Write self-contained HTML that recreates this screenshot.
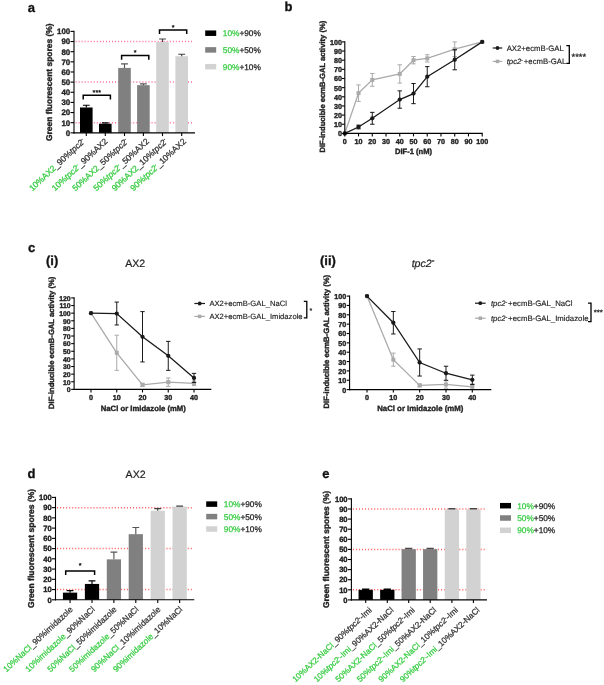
<!DOCTYPE html>
<html lang="en">
<head>
<meta charset="utf-8">
<title>Figure</title>
<style>
html,body{margin:0;padding:0;background:#fff;}
body{width:604px;height:685px;overflow:hidden;font-family:"Liberation Sans",sans-serif;}
svg{display:block;font-family:"Liberation Sans",sans-serif;text-rendering:geometricPrecision;}
text[font-weight="bold"]{stroke:#222;stroke-width:.35px;}
</style>
</head>
<body>
<svg width="604" height="685" viewBox="0 0 604 685">
<rect width="604" height="685" fill="#fff"/>
<text x="27.8" y="11.7" font-size="13" font-weight="bold" fill="#111">a</text>
<text x="284.5" y="11.1" font-size="13" font-weight="bold" fill="#111">b</text>
<text x="28" y="252" font-size="13" font-weight="bold" fill="#111">c</text>
<text x="46" y="265" font-size="13" font-weight="bold" fill="#111">(i)</text>
<text x="320" y="265" font-size="13" font-weight="bold" fill="#111">(ii)</text>
<text x="27.4" y="478" font-size="13" font-weight="bold" fill="#111">d</text>
<text x="322.2" y="478" font-size="13" font-weight="bold" fill="#111">e</text>
<text x="135.2" y="267.4" font-size="10.6" text-anchor="middle" fill="#222" stroke="#222" stroke-width="0.2">AX2</text>
<text x="135.6" y="477.8" font-size="10.6" text-anchor="middle" fill="#222" stroke="#222" stroke-width="0.2">AX2</text>
<text x="423" y="267.4" font-size="10.6" text-anchor="middle" fill="#222" font-style="italic" stroke="#222" stroke-width="0.2">tpc2<tspan dy="-4.6" font-size="8" font-weight="bold">-</tspan></text>
<line x1="75.5" y1="122.7" x2="193.5" y2="122.7" stroke="#ff70a8" stroke-width="1.5" stroke-dasharray="1.05 1.99"/>
<line x1="75.5" y1="82.12" x2="193.5" y2="82.12" stroke="#ff70a8" stroke-width="1.5" stroke-dasharray="1.05 1.99"/>
<line x1="75.5" y1="41.55" x2="193.5" y2="41.55" stroke="#ff70a8" stroke-width="1.5" stroke-dasharray="1.05 1.99"/>
<rect x="80" y="107.49" width="12.6" height="25.36" fill="#000"/>
<path d="M86.3 107.49V105.26M82.9 105.26H89.7" fill="none" stroke="#000" stroke-width="1.15"/>
<rect x="99" y="123.72" width="12.6" height="9.13" fill="#000"/>
<path d="M105.3 123.72V122.91M101.9 122.91H108.7" fill="none" stroke="#000" stroke-width="1.15"/>
<rect x="118.2" y="67.92" width="12.6" height="64.93" fill="#808080"/>
<path d="M124.5 67.92V63.86M121.1 63.86H127.9" fill="none" stroke="#555" stroke-width="1.15"/>
<rect x="137.1" y="85.17" width="12.6" height="47.68" fill="#808080"/>
<path d="M143.4 85.17V83.85M140 83.85H146.8" fill="none" stroke="#555" stroke-width="1.15"/>
<rect x="156.2" y="42.05" width="12.6" height="90.8" fill="#d2d2d2"/>
<path d="M162.5 42.05V39.01M159.1 39.01H165.9" fill="none" stroke="#404040" stroke-width="1.15"/>
<rect x="175.4" y="56.26" width="12.6" height="76.59" fill="#d2d2d2"/>
<path d="M181.7 56.26V54.23M178.3 54.23H185.1" fill="none" stroke="#404040" stroke-width="1.15"/>
<line x1="74" y1="30.85" x2="74" y2="133.4" stroke="#000" stroke-width="1.1"/>
<line x1="70.5" y1="132.85" x2="74" y2="132.85" stroke="#000" stroke-width="1.1"/>
<text x="70.2" y="135.69" font-size="7.9" font-weight="bold" text-anchor="end" fill="#222">0</text>
<line x1="70.5" y1="122.7" x2="74" y2="122.7" stroke="#000" stroke-width="1.1"/>
<text x="70.2" y="125.55" font-size="7.9" font-weight="bold" text-anchor="end" fill="#222">10</text>
<line x1="70.5" y1="112.56" x2="74" y2="112.56" stroke="#000" stroke-width="1.1"/>
<text x="70.2" y="115.4" font-size="7.9" font-weight="bold" text-anchor="end" fill="#222">20</text>
<line x1="70.5" y1="102.41" x2="74" y2="102.41" stroke="#000" stroke-width="1.1"/>
<text x="70.2" y="105.26" font-size="7.9" font-weight="bold" text-anchor="end" fill="#222">30</text>
<line x1="70.5" y1="92.27" x2="74" y2="92.27" stroke="#000" stroke-width="1.1"/>
<text x="70.2" y="95.11" font-size="7.9" font-weight="bold" text-anchor="end" fill="#222">40</text>
<line x1="70.5" y1="82.12" x2="74" y2="82.12" stroke="#000" stroke-width="1.1"/>
<text x="70.2" y="84.97" font-size="7.9" font-weight="bold" text-anchor="end" fill="#222">50</text>
<line x1="70.5" y1="71.98" x2="74" y2="71.98" stroke="#000" stroke-width="1.1"/>
<text x="70.2" y="74.82" font-size="7.9" font-weight="bold" text-anchor="end" fill="#222">60</text>
<line x1="70.5" y1="61.84" x2="74" y2="61.84" stroke="#000" stroke-width="1.1"/>
<text x="70.2" y="64.68" font-size="7.9" font-weight="bold" text-anchor="end" fill="#222">70</text>
<line x1="70.5" y1="51.69" x2="74" y2="51.69" stroke="#000" stroke-width="1.1"/>
<text x="70.2" y="54.53" font-size="7.9" font-weight="bold" text-anchor="end" fill="#222">80</text>
<line x1="70.5" y1="41.55" x2="74" y2="41.55" stroke="#000" stroke-width="1.1"/>
<text x="70.2" y="44.39" font-size="7.9" font-weight="bold" text-anchor="end" fill="#222">90</text>
<line x1="70.5" y1="31.4" x2="74" y2="31.4" stroke="#000" stroke-width="1.1"/>
<text x="70.2" y="34.24" font-size="7.9" font-weight="bold" text-anchor="end" fill="#222">100</text>
<line x1="73.45" y1="132.85" x2="195" y2="132.85" stroke="#000" stroke-width="1.1"/>
<line x1="86.3" y1="132.85" x2="86.3" y2="136.05" stroke="#000" stroke-width="1.1"/>
<text transform="translate(85.5,142.05) rotate(-43)" font-size="8.5" text-anchor="end" stroke-width="0.25"><tspan fill="#38cc44" stroke="#38cc44">10%AX2</tspan><tspan fill="#333" stroke="#333">_90%</tspan><tspan fill="#333" stroke="#333" font-style="italic">tpc2</tspan><tspan fill="#333" stroke="#333" baseline-shift="super" font-size="5.1">-</tspan></text>
<line x1="105.3" y1="132.85" x2="105.3" y2="136.05" stroke="#000" stroke-width="1.1"/>
<text transform="translate(108.2,142.05) rotate(-43)" font-size="8.5" text-anchor="end" stroke-width="0.25"><tspan fill="#38cc44" stroke="#38cc44">10%</tspan><tspan fill="#38cc44" stroke="#38cc44" font-style="italic">tpc2</tspan><tspan fill="#38cc44" stroke="#38cc44" baseline-shift="super" font-size="5.1">-</tspan><tspan fill="#333" stroke="#333">_90%AX2</tspan></text>
<line x1="124.5" y1="132.85" x2="124.5" y2="136.05" stroke="#000" stroke-width="1.1"/>
<text transform="translate(128.7,142.05) rotate(-43)" font-size="8.5" text-anchor="end" stroke-width="0.25"><tspan fill="#38cc44" stroke="#38cc44">50%AX2</tspan><tspan fill="#333" stroke="#333">_50%</tspan><tspan fill="#333" stroke="#333" font-style="italic">tpc2</tspan><tspan fill="#333" stroke="#333" baseline-shift="super" font-size="5.1">-</tspan></text>
<line x1="143.4" y1="132.85" x2="143.4" y2="136.05" stroke="#000" stroke-width="1.1"/>
<text transform="translate(149.6,142.05) rotate(-43)" font-size="8.5" text-anchor="end" stroke-width="0.25"><tspan fill="#38cc44" stroke="#38cc44">50%</tspan><tspan fill="#38cc44" stroke="#38cc44" font-style="italic">tpc2</tspan><tspan fill="#38cc44" stroke="#38cc44" baseline-shift="super" font-size="5.1">-</tspan><tspan fill="#333" stroke="#333">_50%AX2</tspan></text>
<line x1="162.5" y1="132.85" x2="162.5" y2="136.05" stroke="#000" stroke-width="1.1"/>
<text transform="translate(168,142.05) rotate(-43)" font-size="8.5" text-anchor="end" stroke-width="0.25"><tspan fill="#38cc44" stroke="#38cc44">90%AX2</tspan><tspan fill="#333" stroke="#333">_10%</tspan><tspan fill="#333" stroke="#333" font-style="italic">tpc2</tspan><tspan fill="#333" stroke="#333" baseline-shift="super" font-size="5.1">-</tspan></text>
<line x1="181.7" y1="132.85" x2="181.7" y2="136.05" stroke="#000" stroke-width="1.1"/>
<text transform="translate(186.6,142.05) rotate(-43)" font-size="8.5" text-anchor="end" stroke-width="0.25"><tspan fill="#38cc44" stroke="#38cc44">90%</tspan><tspan fill="#38cc44" stroke="#38cc44" font-style="italic">tpc2</tspan><tspan fill="#38cc44" stroke="#38cc44" baseline-shift="super" font-size="5.1">-</tspan><tspan fill="#333" stroke="#333">_10%AX2</tspan></text>
<text transform="translate(51.9,82.2) rotate(-90)" font-size="8.45" font-weight="bold" text-anchor="middle" fill="#222">Green fluorescent spores (%)</text>
<path d="M83.2 99.5V95.3H110.4V99.5" fill="none" stroke="#000" stroke-width="1.5"/>
<text x="96.8" y="95.1" font-size="7.2" text-anchor="middle" fill="#111" stroke="#111" stroke-width="0.3">***</text>
<path d="M121.6 59.8V55.6H148.8V59.8" fill="none" stroke="#000" stroke-width="1.5"/>
<text x="135.2" y="55.4" font-size="7.2" text-anchor="middle" fill="#111" stroke="#111" stroke-width="0.3">*</text>
<path d="M159.5 34.1V29.9H186.7V34.1" fill="none" stroke="#000" stroke-width="1.5"/>
<text x="173.1" y="29.7" font-size="7.2" text-anchor="middle" fill="#111" stroke="#111" stroke-width="0.3">*</text>
<rect x="205.2" y="30.45" width="11" height="5.5" fill="#000"/>
<text x="222.8" y="36.19" font-size="8.3" stroke-width="0.25"><tspan fill="#38cc44" stroke="#38cc44">10%</tspan><tspan fill="#222" stroke="#222">+90%</tspan></text>
<rect x="205.2" y="47.15" width="11" height="5.5" fill="#808080"/>
<text x="222.8" y="52.89" font-size="8.3" stroke-width="0.25"><tspan fill="#38cc44" stroke="#38cc44">50%</tspan><tspan fill="#222" stroke="#222">+50%</tspan></text>
<rect x="205.2" y="63.95" width="11" height="5.5" fill="#d2d2d2"/>
<text x="222.8" y="69.69" font-size="8.3" stroke-width="0.25"><tspan fill="#38cc44" stroke="#38cc44">90%</tspan><tspan fill="#222" stroke="#222">+10%</tspan></text>
<path d="M358.54 84.91V101.38M356.34 84.91H360.74M356.34 101.38H360.74" fill="none" stroke="#aaaaaa" stroke-width="1"/>
<path d="M372.28 73.47V86.28M370.08 73.47H374.48M370.08 86.28H374.48" fill="none" stroke="#aaaaaa" stroke-width="1"/>
<path d="M399.76 64.78V83.08M397.56 64.78H401.96M397.56 83.08H401.96" fill="none" stroke="#aaaaaa" stroke-width="1"/>
<path d="M413.5 56.54V63.86M411.3 56.54H415.7M411.3 63.86H415.7" fill="none" stroke="#aaaaaa" stroke-width="1"/>
<path d="M427.24 54.71V62.03M425.04 54.71H429.44M425.04 62.03H429.44" fill="none" stroke="#aaaaaa" stroke-width="1"/>
<path d="M454.72 41.9V56.54M452.52 41.9H456.92M452.52 56.54H456.92" fill="none" stroke="#aaaaaa" stroke-width="1"/>
<polyline points="344.8,133.4 358.54,93.14 372.28,79.87 399.76,73.93 413.5,60.2 427.24,58.37 454.72,49.22 482.2,41.9" fill="none" stroke="#aaaaaa" stroke-width="1.3"/>
<rect x="342.8" y="131.4" width="4" height="4" fill="#aaaaaa"/>
<rect x="356.54" y="91.14" width="4" height="4" fill="#aaaaaa"/>
<rect x="370.28" y="77.87" width="4" height="4" fill="#aaaaaa"/>
<rect x="397.76" y="71.93" width="4" height="4" fill="#aaaaaa"/>
<rect x="411.5" y="58.2" width="4" height="4" fill="#aaaaaa"/>
<rect x="425.24" y="56.37" width="4" height="4" fill="#aaaaaa"/>
<rect x="452.72" y="47.22" width="4" height="4" fill="#aaaaaa"/>
<rect x="480.2" y="39.9" width="4" height="4" fill="#aaaaaa"/>
<path d="M358.54 125.17V128.83M356.34 125.17H360.74M356.34 128.83H360.74" fill="none" stroke="#1a1a1a" stroke-width="1"/>
<path d="M372.28 112.36V124.25M370.08 112.36H374.48M370.08 124.25H374.48" fill="none" stroke="#1a1a1a" stroke-width="1"/>
<path d="M399.76 90.85V108.24M397.56 90.85H401.96M397.56 108.24H401.96" fill="none" stroke="#1a1a1a" stroke-width="1"/>
<path d="M413.5 83.53V103.66M411.3 83.53H415.7M411.3 103.66H415.7" fill="none" stroke="#1a1a1a" stroke-width="1"/>
<path d="M427.24 66.61V86.74M425.04 66.61H429.44M425.04 86.74H429.44" fill="none" stroke="#1a1a1a" stroke-width="1"/>
<path d="M454.72 49.68V69.81M452.52 49.68H456.92M452.52 69.81H456.92" fill="none" stroke="#1a1a1a" stroke-width="1"/>
<polyline points="344.8,133.4 358.54,127 372.28,118.3 399.76,99.55 413.5,93.6 427.24,76.67 454.72,59.74 482.2,41.9" fill="none" stroke="#1a1a1a" stroke-width="1.3"/>
<circle cx="344.8" cy="133.4" r="2.15" fill="#1a1a1a"/>
<circle cx="358.54" cy="127" r="2.15" fill="#1a1a1a"/>
<circle cx="372.28" cy="118.3" r="2.15" fill="#1a1a1a"/>
<circle cx="399.76" cy="99.55" r="2.15" fill="#1a1a1a"/>
<circle cx="413.5" cy="93.6" r="2.15" fill="#1a1a1a"/>
<circle cx="427.24" cy="76.67" r="2.15" fill="#1a1a1a"/>
<circle cx="454.72" cy="59.74" r="2.15" fill="#1a1a1a"/>
<circle cx="482.2" cy="41.9" r="2.15" fill="#1a1a1a"/>
<line x1="344.8" y1="41.35" x2="344.8" y2="133.95" stroke="#000" stroke-width="1.1"/>
<line x1="341.9" y1="133.4" x2="344.8" y2="133.4" stroke="#000" stroke-width="1.1"/>
<text x="341.9" y="136.39" font-size="7.2" font-weight="bold" text-anchor="end" fill="#222">0</text>
<line x1="341.9" y1="124.25" x2="344.8" y2="124.25" stroke="#000" stroke-width="1.1"/>
<text x="341.9" y="127.24" font-size="7.2" font-weight="bold" text-anchor="end" fill="#222">10</text>
<line x1="341.9" y1="115.1" x2="344.8" y2="115.1" stroke="#000" stroke-width="1.1"/>
<text x="341.9" y="118.09" font-size="7.2" font-weight="bold" text-anchor="end" fill="#222">20</text>
<line x1="341.9" y1="105.95" x2="344.8" y2="105.95" stroke="#000" stroke-width="1.1"/>
<text x="341.9" y="108.94" font-size="7.2" font-weight="bold" text-anchor="end" fill="#222">30</text>
<line x1="341.9" y1="96.8" x2="344.8" y2="96.8" stroke="#000" stroke-width="1.1"/>
<text x="341.9" y="99.79" font-size="7.2" font-weight="bold" text-anchor="end" fill="#222">40</text>
<line x1="341.9" y1="87.65" x2="344.8" y2="87.65" stroke="#000" stroke-width="1.1"/>
<text x="341.9" y="90.64" font-size="7.2" font-weight="bold" text-anchor="end" fill="#222">50</text>
<line x1="341.9" y1="78.5" x2="344.8" y2="78.5" stroke="#000" stroke-width="1.1"/>
<text x="341.9" y="81.49" font-size="7.2" font-weight="bold" text-anchor="end" fill="#222">60</text>
<line x1="341.9" y1="69.35" x2="344.8" y2="69.35" stroke="#000" stroke-width="1.1"/>
<text x="341.9" y="72.34" font-size="7.2" font-weight="bold" text-anchor="end" fill="#222">70</text>
<line x1="341.9" y1="60.2" x2="344.8" y2="60.2" stroke="#000" stroke-width="1.1"/>
<text x="341.9" y="63.19" font-size="7.2" font-weight="bold" text-anchor="end" fill="#222">80</text>
<line x1="341.9" y1="51.05" x2="344.8" y2="51.05" stroke="#000" stroke-width="1.1"/>
<text x="341.9" y="54.04" font-size="7.2" font-weight="bold" text-anchor="end" fill="#222">90</text>
<line x1="341.9" y1="41.9" x2="344.8" y2="41.9" stroke="#000" stroke-width="1.1"/>
<text x="341.9" y="44.89" font-size="7.2" font-weight="bold" text-anchor="end" fill="#222">100</text>
<line x1="344.25" y1="133.4" x2="482.75" y2="133.4" stroke="#000" stroke-width="1.1"/>
<line x1="344.8" y1="133.4" x2="344.8" y2="136.4" stroke="#000" stroke-width="1.1"/>
<text x="344.8" y="144.2" font-size="7.2" font-weight="bold" text-anchor="middle" fill="#222">0</text>
<line x1="358.54" y1="133.4" x2="358.54" y2="136.4" stroke="#000" stroke-width="1.1"/>
<text x="358.54" y="144.2" font-size="7.2" font-weight="bold" text-anchor="middle" fill="#222">10</text>
<line x1="372.28" y1="133.4" x2="372.28" y2="136.4" stroke="#000" stroke-width="1.1"/>
<text x="372.28" y="144.2" font-size="7.2" font-weight="bold" text-anchor="middle" fill="#222">20</text>
<line x1="386.02" y1="133.4" x2="386.02" y2="136.4" stroke="#000" stroke-width="1.1"/>
<text x="386.02" y="144.2" font-size="7.2" font-weight="bold" text-anchor="middle" fill="#222">30</text>
<line x1="399.76" y1="133.4" x2="399.76" y2="136.4" stroke="#000" stroke-width="1.1"/>
<text x="399.76" y="144.2" font-size="7.2" font-weight="bold" text-anchor="middle" fill="#222">40</text>
<line x1="413.5" y1="133.4" x2="413.5" y2="136.4" stroke="#000" stroke-width="1.1"/>
<text x="413.5" y="144.2" font-size="7.2" font-weight="bold" text-anchor="middle" fill="#222">50</text>
<line x1="427.24" y1="133.4" x2="427.24" y2="136.4" stroke="#000" stroke-width="1.1"/>
<text x="427.24" y="144.2" font-size="7.2" font-weight="bold" text-anchor="middle" fill="#222">60</text>
<line x1="440.98" y1="133.4" x2="440.98" y2="136.4" stroke="#000" stroke-width="1.1"/>
<text x="440.98" y="144.2" font-size="7.2" font-weight="bold" text-anchor="middle" fill="#222">70</text>
<line x1="454.72" y1="133.4" x2="454.72" y2="136.4" stroke="#000" stroke-width="1.1"/>
<text x="454.72" y="144.2" font-size="7.2" font-weight="bold" text-anchor="middle" fill="#222">80</text>
<line x1="468.46" y1="133.4" x2="468.46" y2="136.4" stroke="#000" stroke-width="1.1"/>
<text x="468.46" y="144.2" font-size="7.2" font-weight="bold" text-anchor="middle" fill="#222">90</text>
<line x1="482.2" y1="133.4" x2="482.2" y2="136.4" stroke="#000" stroke-width="1.1"/>
<text x="482.2" y="144.2" font-size="7.2" font-weight="bold" text-anchor="middle" fill="#222">100</text>
<text x="413.5" y="154.2" font-size="7.6" font-weight="bold" text-anchor="middle" fill="#222">DIF-1 (nM)</text>
<text transform="translate(325,86.65) rotate(-90)" font-size="7.62" font-weight="bold" text-anchor="middle" fill="#222">DIF-inducible ecmB-GAL activity (%)</text>
<line x1="492.7" y1="48" x2="502.3" y2="48" stroke="#1a1a1a" stroke-width="1.2"/>
<circle cx="497.5" cy="48" r="1.9" fill="#1a1a1a"/>
<text x="506.7" y="50.79" font-size="7.75" fill="#222" stroke="#222" stroke-width="0.15"><tspan>AX2+ecmB-GAL</tspan></text>
<line x1="492.7" y1="61.4" x2="502.3" y2="61.4" stroke="#aaaaaa" stroke-width="1.2"/>
<rect x="495.75" y="59.65" width="3.5" height="3.5" fill="#aaaaaa"/>
<text x="506.7" y="64.19" font-size="7.75" fill="#222" stroke="#222" stroke-width="0.15"><tspan font-style="italic">tpc2</tspan><tspan baseline-shift="super" font-size="4.65">-</tspan><tspan dx="0.9">+ecmB-GAL</tspan></text>
<path d="M566.3 45.6H569.3V63.3H566.3" fill="none" stroke="#000" stroke-width="1.3"/>
<text x="571.6" y="60.44" font-size="9.3" fill="#222" stroke="#222" stroke-width="0.2">****</text>
<path d="M116.75 335.26V370.34M114.55 335.26H118.95M114.55 370.34H118.95" fill="none" stroke="#aaaaaa" stroke-width="1"/>
<path d="M142.5 383.3V386.35M140.3 383.3H144.7M140.3 386.35H144.7" fill="none" stroke="#aaaaaa" stroke-width="1"/>
<path d="M168.25 377.96V386.35M166.05 377.96H170.45M166.05 386.35H170.45" fill="none" stroke="#aaaaaa" stroke-width="1"/>
<path d="M194 381.01V385.59M191.8 381.01H196.2M191.8 385.59H196.2" fill="none" stroke="#aaaaaa" stroke-width="1"/>
<polyline points="91,313.15 116.75,352.8 142.5,384.82 168.25,382.16 194,383.3" fill="none" stroke="#aaaaaa" stroke-width="1.3"/>
<rect x="89" y="311.15" width="4" height="4" fill="#aaaaaa"/>
<rect x="114.75" y="350.8" width="4" height="4" fill="#aaaaaa"/>
<rect x="140.5" y="382.82" width="4" height="4" fill="#aaaaaa"/>
<rect x="166.25" y="380.16" width="4" height="4" fill="#aaaaaa"/>
<rect x="192" y="381.3" width="4" height="4" fill="#aaaaaa"/>
<path d="M116.75 302.09V324.97M114.55 302.09H118.95M114.55 324.97H118.95" fill="none" stroke="#1a1a1a" stroke-width="1"/>
<path d="M142.5 311.62V361.95M140.3 311.62H144.7M140.3 361.95H144.7" fill="none" stroke="#1a1a1a" stroke-width="1"/>
<path d="M168.25 341.36V370.34M166.05 341.36H170.45M166.05 370.34H170.45" fill="none" stroke="#1a1a1a" stroke-width="1"/>
<path d="M194 373.39V382.54M191.8 373.39H196.2M191.8 382.54H196.2" fill="none" stroke="#1a1a1a" stroke-width="1"/>
<polyline points="91,313.15 116.75,313.53 142.5,336.79 168.25,355.85 194,377.96" fill="none" stroke="#1a1a1a" stroke-width="1.3"/>
<circle cx="91" cy="313.15" r="2.15" fill="#1a1a1a"/>
<circle cx="116.75" cy="313.53" r="2.15" fill="#1a1a1a"/>
<circle cx="142.5" cy="336.79" r="2.15" fill="#1a1a1a"/>
<circle cx="168.25" cy="355.85" r="2.15" fill="#1a1a1a"/>
<circle cx="194" cy="377.96" r="2.15" fill="#1a1a1a"/>
<line x1="74.1" y1="297.35" x2="74.1" y2="389.95" stroke="#000" stroke-width="1.1"/>
<line x1="71.2" y1="389.4" x2="74.1" y2="389.4" stroke="#000" stroke-width="1.1"/>
<text x="70.7" y="392.18" font-size="6.9" font-weight="bold" text-anchor="end" fill="#222">0</text>
<line x1="71.2" y1="381.77" x2="74.1" y2="381.77" stroke="#000" stroke-width="1.1"/>
<text x="70.7" y="384.56" font-size="6.9" font-weight="bold" text-anchor="end" fill="#222">10</text>
<line x1="71.2" y1="374.15" x2="74.1" y2="374.15" stroke="#000" stroke-width="1.1"/>
<text x="70.7" y="376.93" font-size="6.9" font-weight="bold" text-anchor="end" fill="#222">20</text>
<line x1="71.2" y1="366.52" x2="74.1" y2="366.52" stroke="#000" stroke-width="1.1"/>
<text x="70.7" y="369.31" font-size="6.9" font-weight="bold" text-anchor="end" fill="#222">30</text>
<line x1="71.2" y1="358.9" x2="74.1" y2="358.9" stroke="#000" stroke-width="1.1"/>
<text x="70.7" y="361.68" font-size="6.9" font-weight="bold" text-anchor="end" fill="#222">40</text>
<line x1="71.2" y1="351.27" x2="74.1" y2="351.27" stroke="#000" stroke-width="1.1"/>
<text x="70.7" y="354.06" font-size="6.9" font-weight="bold" text-anchor="end" fill="#222">50</text>
<line x1="71.2" y1="343.65" x2="74.1" y2="343.65" stroke="#000" stroke-width="1.1"/>
<text x="70.7" y="346.43" font-size="6.9" font-weight="bold" text-anchor="end" fill="#222">60</text>
<line x1="71.2" y1="336.02" x2="74.1" y2="336.02" stroke="#000" stroke-width="1.1"/>
<text x="70.7" y="338.81" font-size="6.9" font-weight="bold" text-anchor="end" fill="#222">70</text>
<line x1="71.2" y1="328.4" x2="74.1" y2="328.4" stroke="#000" stroke-width="1.1"/>
<text x="70.7" y="331.18" font-size="6.9" font-weight="bold" text-anchor="end" fill="#222">80</text>
<line x1="71.2" y1="320.77" x2="74.1" y2="320.77" stroke="#000" stroke-width="1.1"/>
<text x="70.7" y="323.56" font-size="6.9" font-weight="bold" text-anchor="end" fill="#222">90</text>
<line x1="71.2" y1="313.15" x2="74.1" y2="313.15" stroke="#000" stroke-width="1.1"/>
<text x="70.7" y="315.93" font-size="6.9" font-weight="bold" text-anchor="end" fill="#222">100</text>
<line x1="71.2" y1="305.52" x2="74.1" y2="305.52" stroke="#000" stroke-width="1.1"/>
<text x="70.7" y="308.31" font-size="6.9" font-weight="bold" text-anchor="end" fill="#222">110</text>
<line x1="71.2" y1="297.9" x2="74.1" y2="297.9" stroke="#000" stroke-width="1.1"/>
<text x="70.7" y="300.68" font-size="6.9" font-weight="bold" text-anchor="end" fill="#222">120</text>
<line x1="73.55" y1="389.4" x2="211.3" y2="389.4" stroke="#000" stroke-width="1.1"/>
<line x1="91" y1="389.4" x2="91" y2="392.4" stroke="#000" stroke-width="1.1"/>
<text x="91" y="400.2" font-size="7.2" font-weight="bold" text-anchor="middle" fill="#222">0</text>
<line x1="116.75" y1="389.4" x2="116.75" y2="392.4" stroke="#000" stroke-width="1.1"/>
<text x="116.75" y="400.2" font-size="7.2" font-weight="bold" text-anchor="middle" fill="#222">10</text>
<line x1="142.5" y1="389.4" x2="142.5" y2="392.4" stroke="#000" stroke-width="1.1"/>
<text x="142.5" y="400.2" font-size="7.2" font-weight="bold" text-anchor="middle" fill="#222">20</text>
<line x1="168.25" y1="389.4" x2="168.25" y2="392.4" stroke="#000" stroke-width="1.1"/>
<text x="168.25" y="400.2" font-size="7.2" font-weight="bold" text-anchor="middle" fill="#222">30</text>
<line x1="194" y1="389.4" x2="194" y2="392.4" stroke="#000" stroke-width="1.1"/>
<text x="194" y="400.2" font-size="7.2" font-weight="bold" text-anchor="middle" fill="#222">40</text>
<text x="143.3" y="410.9" font-size="7.7" font-weight="bold" text-anchor="middle" fill="#222">NaCl or Imidazole (mM)</text>
<text transform="translate(54,342.8) rotate(-90)" font-size="7.65" font-weight="bold" text-anchor="middle" fill="#222">DIF-inducible ecmB-GAL activity (%)</text>
<line x1="194.4" y1="303.5" x2="205" y2="303.5" stroke="#1a1a1a" stroke-width="1.2"/>
<circle cx="199.7" cy="303.5" r="1.9" fill="#1a1a1a"/>
<text x="209.4" y="306.25" font-size="7.65" fill="#222" stroke="#222" stroke-width="0.15"><tspan>AX2+ecmB-GAL_NaCl</tspan></text>
<line x1="194.4" y1="316.4" x2="205" y2="316.4" stroke="#aaaaaa" stroke-width="1.2"/>
<rect x="197.95" y="314.65" width="3.5" height="3.5" fill="#aaaaaa"/>
<text x="209.4" y="319.15" font-size="7.65" fill="#222" stroke="#222" stroke-width="0.15"><tspan>AX2+ecmB-GAL_Imidazole</tspan></text>
<path d="M303.8 301.3H306.8V317.8H303.8" fill="none" stroke="#000" stroke-width="1.3"/>
<text x="309.6" y="313.1" font-size="7" fill="#222" stroke="#222" stroke-width="0.2">*</text>
<path d="M393.33 353.13V366.23M391.13 353.13H395.53M391.13 366.23H395.53" fill="none" stroke="#aaaaaa" stroke-width="1"/>
<path d="M419.66 383.99V386.8M417.46 383.99H421.86M417.46 386.8H421.86" fill="none" stroke="#aaaaaa" stroke-width="1"/>
<path d="M445.99 380.72V388.2M443.79 380.72H448.19M443.79 388.2H448.19" fill="none" stroke="#aaaaaa" stroke-width="1"/>
<path d="M472.32 383.99V389.6M470.12 383.99H474.52M470.12 389.6H474.52" fill="none" stroke="#aaaaaa" stroke-width="1"/>
<polyline points="367,296.1 393.33,359.68 419.66,385.39 445.99,384.46 472.32,386.8" fill="none" stroke="#aaaaaa" stroke-width="1.3"/>
<rect x="365" y="294.1" width="4" height="4" fill="#aaaaaa"/>
<rect x="391.33" y="357.68" width="4" height="4" fill="#aaaaaa"/>
<rect x="417.66" y="383.39" width="4" height="4" fill="#aaaaaa"/>
<rect x="443.99" y="382.46" width="4" height="4" fill="#aaaaaa"/>
<rect x="470.32" y="384.8" width="4" height="4" fill="#aaaaaa"/>
<path d="M393.33 311.53V333.97M391.13 311.53H395.53M391.13 333.97H395.53" fill="none" stroke="#1a1a1a" stroke-width="1"/>
<path d="M419.66 348.93V376.04M417.46 348.93H421.86M417.46 376.04H421.86" fill="none" stroke="#1a1a1a" stroke-width="1"/>
<path d="M445.99 366.23V380.25M443.79 366.23H448.19M443.79 380.25H448.19" fill="none" stroke="#1a1a1a" stroke-width="1"/>
<path d="M472.32 375.11V384.46M470.12 375.11H474.52M470.12 384.46H474.52" fill="none" stroke="#1a1a1a" stroke-width="1"/>
<polyline points="367,296.1 393.33,322.75 419.66,362.49 445.99,373.24 472.32,379.78" fill="none" stroke="#1a1a1a" stroke-width="1.3"/>
<circle cx="367" cy="296.1" r="2.15" fill="#1a1a1a"/>
<circle cx="393.33" cy="322.75" r="2.15" fill="#1a1a1a"/>
<circle cx="419.66" cy="362.49" r="2.15" fill="#1a1a1a"/>
<circle cx="445.99" cy="373.24" r="2.15" fill="#1a1a1a"/>
<circle cx="472.32" cy="379.78" r="2.15" fill="#1a1a1a"/>
<line x1="349.6" y1="295.55" x2="349.6" y2="390.15" stroke="#000" stroke-width="1.1"/>
<line x1="346.7" y1="389.6" x2="349.6" y2="389.6" stroke="#000" stroke-width="1.1"/>
<text x="346.2" y="392.59" font-size="7.2" font-weight="bold" text-anchor="end" fill="#222">0</text>
<line x1="346.7" y1="380.25" x2="349.6" y2="380.25" stroke="#000" stroke-width="1.1"/>
<text x="346.2" y="383.24" font-size="7.2" font-weight="bold" text-anchor="end" fill="#222">10</text>
<line x1="346.7" y1="370.9" x2="349.6" y2="370.9" stroke="#000" stroke-width="1.1"/>
<text x="346.2" y="373.89" font-size="7.2" font-weight="bold" text-anchor="end" fill="#222">20</text>
<line x1="346.7" y1="361.55" x2="349.6" y2="361.55" stroke="#000" stroke-width="1.1"/>
<text x="346.2" y="364.54" font-size="7.2" font-weight="bold" text-anchor="end" fill="#222">30</text>
<line x1="346.7" y1="352.2" x2="349.6" y2="352.2" stroke="#000" stroke-width="1.1"/>
<text x="346.2" y="355.19" font-size="7.2" font-weight="bold" text-anchor="end" fill="#222">40</text>
<line x1="346.7" y1="342.85" x2="349.6" y2="342.85" stroke="#000" stroke-width="1.1"/>
<text x="346.2" y="345.84" font-size="7.2" font-weight="bold" text-anchor="end" fill="#222">50</text>
<line x1="346.7" y1="333.5" x2="349.6" y2="333.5" stroke="#000" stroke-width="1.1"/>
<text x="346.2" y="336.49" font-size="7.2" font-weight="bold" text-anchor="end" fill="#222">60</text>
<line x1="346.7" y1="324.15" x2="349.6" y2="324.15" stroke="#000" stroke-width="1.1"/>
<text x="346.2" y="327.14" font-size="7.2" font-weight="bold" text-anchor="end" fill="#222">70</text>
<line x1="346.7" y1="314.8" x2="349.6" y2="314.8" stroke="#000" stroke-width="1.1"/>
<text x="346.2" y="317.79" font-size="7.2" font-weight="bold" text-anchor="end" fill="#222">80</text>
<line x1="346.7" y1="305.45" x2="349.6" y2="305.45" stroke="#000" stroke-width="1.1"/>
<text x="346.2" y="308.44" font-size="7.2" font-weight="bold" text-anchor="end" fill="#222">90</text>
<line x1="346.7" y1="296.1" x2="349.6" y2="296.1" stroke="#000" stroke-width="1.1"/>
<text x="346.2" y="299.09" font-size="7.2" font-weight="bold" text-anchor="end" fill="#222">100</text>
<line x1="349.05" y1="389.6" x2="491.3" y2="389.6" stroke="#000" stroke-width="1.1"/>
<line x1="367" y1="389.6" x2="367" y2="392.6" stroke="#000" stroke-width="1.1"/>
<text x="367" y="400.4" font-size="7.2" font-weight="bold" text-anchor="middle" fill="#222">0</text>
<line x1="393.33" y1="389.6" x2="393.33" y2="392.6" stroke="#000" stroke-width="1.1"/>
<text x="393.33" y="400.4" font-size="7.2" font-weight="bold" text-anchor="middle" fill="#222">10</text>
<line x1="419.66" y1="389.6" x2="419.66" y2="392.6" stroke="#000" stroke-width="1.1"/>
<text x="419.66" y="400.4" font-size="7.2" font-weight="bold" text-anchor="middle" fill="#222">20</text>
<line x1="445.99" y1="389.6" x2="445.99" y2="392.6" stroke="#000" stroke-width="1.1"/>
<text x="445.99" y="400.4" font-size="7.2" font-weight="bold" text-anchor="middle" fill="#222">30</text>
<line x1="472.32" y1="389.6" x2="472.32" y2="392.6" stroke="#000" stroke-width="1.1"/>
<text x="472.32" y="400.4" font-size="7.2" font-weight="bold" text-anchor="middle" fill="#222">40</text>
<text x="420.3" y="410.8" font-size="7.8" font-weight="bold" text-anchor="middle" fill="#222">NaCl or Imidazole (mM)</text>
<text transform="translate(329.2,341.65) rotate(-90)" font-size="7.72" font-weight="bold" text-anchor="middle" fill="#222">DIF-inducible ecmB-GAL activity (%)</text>
<line x1="475" y1="303.2" x2="485.6" y2="303.2" stroke="#1a1a1a" stroke-width="1.2"/>
<circle cx="480.3" cy="303.2" r="1.9" fill="#1a1a1a"/>
<text x="490.9" y="306.01" font-size="7.8" fill="#222" stroke="#222" stroke-width="0.15"><tspan font-style="italic">tpc2</tspan><tspan baseline-shift="super" font-size="4.68">-</tspan><tspan dx="0.9">+ecmB-GAL_NaCl</tspan></text>
<line x1="475" y1="318.2" x2="485.6" y2="318.2" stroke="#aaaaaa" stroke-width="1.2"/>
<rect x="478.55" y="316.45" width="3.5" height="3.5" fill="#aaaaaa"/>
<text x="490.9" y="321.01" font-size="7.8" fill="#222" stroke="#222" stroke-width="0.15"><tspan font-style="italic">tpc2</tspan><tspan baseline-shift="super" font-size="4.68">-</tspan><tspan dx="0.9">+ecmB-GAL_Imidazole</tspan></text>
<path d="M588 303.2H591V321.7H588" fill="none" stroke="#000" stroke-width="1.3"/>
<text x="593.8" y="314.76" font-size="7.8" fill="#222" stroke="#222" stroke-width="0.2">***</text>
<line x1="57" y1="589.56" x2="192" y2="589.56" stroke="#ff6060" stroke-width="1.5" stroke-dasharray="1.05 1.99"/>
<line x1="57" y1="548.6" x2="192" y2="548.6" stroke="#ff6060" stroke-width="1.5" stroke-dasharray="1.05 1.99"/>
<line x1="57" y1="507.64" x2="192" y2="507.64" stroke="#ff6060" stroke-width="1.5" stroke-dasharray="1.05 1.99"/>
<rect x="62.92" y="592.63" width="14.25" height="7.17" fill="#000"/>
<path d="M70.05 592.63V590.58M66.65 590.58H73.45" fill="none" stroke="#000" stroke-width="1.15"/>
<rect x="84.88" y="583.93" width="14.25" height="15.87" fill="#000"/>
<path d="M92 583.93V580.86M88.6 580.86H95.4" fill="none" stroke="#000" stroke-width="1.15"/>
<rect x="106.78" y="559.35" width="14.25" height="40.45" fill="#808080"/>
<path d="M113.9 559.35V552.18M110.5 552.18H117.3" fill="none" stroke="#555" stroke-width="1.15"/>
<rect x="128.68" y="534.16" width="14.25" height="65.64" fill="#808080"/>
<path d="M135.8 534.16V527.51M132.4 527.51H139.2" fill="none" stroke="#555" stroke-width="1.15"/>
<rect x="150.62" y="510.71" width="14.25" height="89.09" fill="#d2d2d2"/>
<path d="M157.75 510.71V508.66M154.35 508.66H161.15" fill="none" stroke="#404040" stroke-width="1.15"/>
<rect x="172.53" y="506.62" width="14.25" height="93.18" fill="#d2d2d2"/>
<path d="M179.65 506.62V506.1M176.25 506.1H183.05" fill="none" stroke="#404040" stroke-width="1.15"/>
<line x1="55.5" y1="496.85" x2="55.5" y2="600.35" stroke="#000" stroke-width="1.1"/>
<line x1="52" y1="599.8" x2="55.5" y2="599.8" stroke="#000" stroke-width="1.1"/>
<text x="51.7" y="602.54" font-size="7.6" font-weight="bold" text-anchor="end" fill="#222">0</text>
<line x1="52" y1="589.56" x2="55.5" y2="589.56" stroke="#000" stroke-width="1.1"/>
<text x="51.7" y="592.3" font-size="7.6" font-weight="bold" text-anchor="end" fill="#222">10</text>
<line x1="52" y1="579.32" x2="55.5" y2="579.32" stroke="#000" stroke-width="1.1"/>
<text x="51.7" y="582.06" font-size="7.6" font-weight="bold" text-anchor="end" fill="#222">20</text>
<line x1="52" y1="569.08" x2="55.5" y2="569.08" stroke="#000" stroke-width="1.1"/>
<text x="51.7" y="571.82" font-size="7.6" font-weight="bold" text-anchor="end" fill="#222">30</text>
<line x1="52" y1="558.84" x2="55.5" y2="558.84" stroke="#000" stroke-width="1.1"/>
<text x="51.7" y="561.58" font-size="7.6" font-weight="bold" text-anchor="end" fill="#222">40</text>
<line x1="52" y1="548.6" x2="55.5" y2="548.6" stroke="#000" stroke-width="1.1"/>
<text x="51.7" y="551.34" font-size="7.6" font-weight="bold" text-anchor="end" fill="#222">50</text>
<line x1="52" y1="538.36" x2="55.5" y2="538.36" stroke="#000" stroke-width="1.1"/>
<text x="51.7" y="541.1" font-size="7.6" font-weight="bold" text-anchor="end" fill="#222">60</text>
<line x1="52" y1="528.12" x2="55.5" y2="528.12" stroke="#000" stroke-width="1.1"/>
<text x="51.7" y="530.86" font-size="7.6" font-weight="bold" text-anchor="end" fill="#222">70</text>
<line x1="52" y1="517.88" x2="55.5" y2="517.88" stroke="#000" stroke-width="1.1"/>
<text x="51.7" y="520.62" font-size="7.6" font-weight="bold" text-anchor="end" fill="#222">80</text>
<line x1="52" y1="507.64" x2="55.5" y2="507.64" stroke="#000" stroke-width="1.1"/>
<text x="51.7" y="510.38" font-size="7.6" font-weight="bold" text-anchor="end" fill="#222">90</text>
<line x1="52" y1="497.4" x2="55.5" y2="497.4" stroke="#000" stroke-width="1.1"/>
<text x="51.7" y="500.14" font-size="7.6" font-weight="bold" text-anchor="end" fill="#222">100</text>
<line x1="54.95" y1="599.8" x2="194.3" y2="599.8" stroke="#000" stroke-width="1.1"/>
<line x1="70.05" y1="599.8" x2="70.05" y2="603" stroke="#000" stroke-width="1.1"/>
<text transform="translate(73.35,610.1) rotate(-43)" font-size="8.3" text-anchor="end" stroke-width="0.25"><tspan fill="#38cc44" stroke="#38cc44">10%NaCl</tspan><tspan fill="#333" stroke="#333">_90%imidazole</tspan></text>
<line x1="92" y1="599.8" x2="92" y2="603" stroke="#000" stroke-width="1.1"/>
<text transform="translate(95.3,610.1) rotate(-43)" font-size="8.3" text-anchor="end" stroke-width="0.25"><tspan fill="#38cc44" stroke="#38cc44">10%imidazole</tspan><tspan fill="#333" stroke="#333">_90%NaCl</tspan></text>
<line x1="113.9" y1="599.8" x2="113.9" y2="603" stroke="#000" stroke-width="1.1"/>
<text transform="translate(117.2,610.1) rotate(-43)" font-size="8.3" text-anchor="end" stroke-width="0.25"><tspan fill="#38cc44" stroke="#38cc44">50%NaCl</tspan><tspan fill="#333" stroke="#333">_50%imidazole</tspan></text>
<line x1="135.8" y1="599.8" x2="135.8" y2="603" stroke="#000" stroke-width="1.1"/>
<text transform="translate(139.1,610.1) rotate(-43)" font-size="8.3" text-anchor="end" stroke-width="0.25"><tspan fill="#38cc44" stroke="#38cc44">50%imidazole</tspan><tspan fill="#333" stroke="#333">_50%NaCl</tspan></text>
<line x1="157.75" y1="599.8" x2="157.75" y2="603" stroke="#000" stroke-width="1.1"/>
<text transform="translate(161.05,610.1) rotate(-43)" font-size="8.3" text-anchor="end" stroke-width="0.25"><tspan fill="#38cc44" stroke="#38cc44">90%NaCl</tspan><tspan fill="#333" stroke="#333">_10%imidazole</tspan></text>
<line x1="179.65" y1="599.8" x2="179.65" y2="603" stroke="#000" stroke-width="1.1"/>
<text transform="translate(182.95,610.1) rotate(-43)" font-size="8.3" text-anchor="end" stroke-width="0.25"><tspan fill="#38cc44" stroke="#38cc44">90%imidazole</tspan><tspan fill="#333" stroke="#333">_10%NaCl</tspan></text>
<text transform="translate(34.2,548.4) rotate(-90)" font-size="8.55" font-weight="bold" text-anchor="middle" fill="#222">Green fluorescent spores (%)</text>
<path d="M65.7 575.1V570.9H94.6V575.1" fill="none" stroke="#000" stroke-width="1.5"/>
<text x="80.15" y="568" font-size="7.2" text-anchor="middle" fill="#111" stroke="#111" stroke-width="0.3">*</text>
<rect x="206.2" y="501.35" width="11" height="5.5" fill="#000"/>
<text x="223.8" y="507.09" font-size="8.3" stroke-width="0.25"><tspan fill="#38cc44" stroke="#38cc44">10%</tspan><tspan fill="#222" stroke="#222">+90%</tspan></text>
<rect x="206.2" y="513.85" width="11" height="5.5" fill="#808080"/>
<text x="223.8" y="519.59" font-size="8.3" stroke-width="0.25"><tspan fill="#38cc44" stroke="#38cc44">50%</tspan><tspan fill="#222" stroke="#222">+50%</tspan></text>
<rect x="206.2" y="526.25" width="11" height="5.5" fill="#d2d2d2"/>
<text x="223.8" y="531.99" font-size="8.3" stroke-width="0.25"><tspan fill="#38cc44" stroke="#38cc44">90%</tspan><tspan fill="#222" stroke="#222">+10%</tspan></text>
<line x1="352.9" y1="589.8" x2="486" y2="589.8" stroke="#ff6060" stroke-width="1.5" stroke-dasharray="1.05 1.99"/>
<line x1="352.9" y1="549.4" x2="486" y2="549.4" stroke="#ff6060" stroke-width="1.5" stroke-dasharray="1.05 1.99"/>
<line x1="352.9" y1="509" x2="486" y2="509" stroke="#ff6060" stroke-width="1.5" stroke-dasharray="1.05 1.99"/>
<rect x="358.55" y="589.8" width="14.3" height="10.1" fill="#000"/>
<path d="M365.7 589.8V589.29M362.1 589.29H369.3" fill="none" stroke="#000" stroke-width="1.5"/>
<rect x="380.15" y="589.8" width="14.3" height="10.1" fill="#000"/>
<path d="M387.3 589.8V589.29M383.7 589.29H390.9" fill="none" stroke="#000" stroke-width="1.5"/>
<rect x="401.55" y="549.2" width="14.3" height="50.7" fill="#808080"/>
<path d="M408.7 549.2V548.59M405.1 548.59H412.3" fill="none" stroke="#4a4a4a" stroke-width="1.5"/>
<rect x="423.05" y="549.2" width="14.3" height="50.7" fill="#808080"/>
<path d="M430.2 549.2V548.59M426.6 548.59H433.8" fill="none" stroke="#4a4a4a" stroke-width="1.5"/>
<rect x="444.75" y="509.4" width="14.3" height="90.5" fill="#d2d2d2"/>
<path d="M451.9 509.4V508.8M448.3 508.8H455.5" fill="none" stroke="#4a4a4a" stroke-width="1.5"/>
<rect x="466.25" y="509.4" width="14.3" height="90.5" fill="#d2d2d2"/>
<path d="M473.4 509.4V508.8M469.8 508.8H477" fill="none" stroke="#4a4a4a" stroke-width="1.5"/>
<line x1="351.4" y1="498.35" x2="351.4" y2="600.45" stroke="#000" stroke-width="1.1"/>
<line x1="347.9" y1="599.9" x2="351.4" y2="599.9" stroke="#000" stroke-width="1.1"/>
<text x="347.6" y="602.64" font-size="7.6" font-weight="bold" text-anchor="end" fill="#222">0</text>
<line x1="347.9" y1="589.8" x2="351.4" y2="589.8" stroke="#000" stroke-width="1.1"/>
<text x="347.6" y="592.54" font-size="7.6" font-weight="bold" text-anchor="end" fill="#222">10</text>
<line x1="347.9" y1="579.7" x2="351.4" y2="579.7" stroke="#000" stroke-width="1.1"/>
<text x="347.6" y="582.44" font-size="7.6" font-weight="bold" text-anchor="end" fill="#222">20</text>
<line x1="347.9" y1="569.6" x2="351.4" y2="569.6" stroke="#000" stroke-width="1.1"/>
<text x="347.6" y="572.34" font-size="7.6" font-weight="bold" text-anchor="end" fill="#222">30</text>
<line x1="347.9" y1="559.5" x2="351.4" y2="559.5" stroke="#000" stroke-width="1.1"/>
<text x="347.6" y="562.24" font-size="7.6" font-weight="bold" text-anchor="end" fill="#222">40</text>
<line x1="347.9" y1="549.4" x2="351.4" y2="549.4" stroke="#000" stroke-width="1.1"/>
<text x="347.6" y="552.14" font-size="7.6" font-weight="bold" text-anchor="end" fill="#222">50</text>
<line x1="347.9" y1="539.3" x2="351.4" y2="539.3" stroke="#000" stroke-width="1.1"/>
<text x="347.6" y="542.04" font-size="7.6" font-weight="bold" text-anchor="end" fill="#222">60</text>
<line x1="347.9" y1="529.2" x2="351.4" y2="529.2" stroke="#000" stroke-width="1.1"/>
<text x="347.6" y="531.94" font-size="7.6" font-weight="bold" text-anchor="end" fill="#222">70</text>
<line x1="347.9" y1="519.1" x2="351.4" y2="519.1" stroke="#000" stroke-width="1.1"/>
<text x="347.6" y="521.84" font-size="7.6" font-weight="bold" text-anchor="end" fill="#222">80</text>
<line x1="347.9" y1="509" x2="351.4" y2="509" stroke="#000" stroke-width="1.1"/>
<text x="347.6" y="511.74" font-size="7.6" font-weight="bold" text-anchor="end" fill="#222">90</text>
<line x1="347.9" y1="498.9" x2="351.4" y2="498.9" stroke="#000" stroke-width="1.1"/>
<text x="347.6" y="501.64" font-size="7.6" font-weight="bold" text-anchor="end" fill="#222">100</text>
<line x1="350.85" y1="599.9" x2="487" y2="599.9" stroke="#000" stroke-width="1.1"/>
<line x1="365.7" y1="599.9" x2="365.7" y2="603.1" stroke="#000" stroke-width="1.1"/>
<text transform="translate(372.4,610.7) rotate(-43)" font-size="8.25" text-anchor="end" stroke-width="0.25"><tspan fill="#38cc44" stroke="#38cc44">10%AX2-NaCl</tspan><tspan fill="#333" stroke="#333">_90%</tspan><tspan fill="#333" stroke="#333" font-style="italic">tpc2</tspan><tspan fill="#333" stroke="#333" baseline-shift="super" font-size="4.95">-</tspan><tspan fill="#333" stroke="#333">-Imi</tspan></text>
<line x1="387.3" y1="599.9" x2="387.3" y2="603.1" stroke="#000" stroke-width="1.1"/>
<text transform="translate(394,610.7) rotate(-43)" font-size="8.25" text-anchor="end" stroke-width="0.25"><tspan fill="#38cc44" stroke="#38cc44">10%</tspan><tspan fill="#38cc44" stroke="#38cc44" font-style="italic">tpc2</tspan><tspan fill="#38cc44" stroke="#38cc44" baseline-shift="super" font-size="4.95">-</tspan><tspan fill="#38cc44" stroke="#38cc44">-Imi</tspan><tspan fill="#333" stroke="#333">_90%AX2-NaCl</tspan></text>
<line x1="408.7" y1="599.9" x2="408.7" y2="603.1" stroke="#000" stroke-width="1.1"/>
<text transform="translate(415.4,610.7) rotate(-43)" font-size="8.25" text-anchor="end" stroke-width="0.25"><tspan fill="#38cc44" stroke="#38cc44">50%AX2-NaCl</tspan><tspan fill="#333" stroke="#333">_50%</tspan><tspan fill="#333" stroke="#333" font-style="italic">tpc2</tspan><tspan fill="#333" stroke="#333" baseline-shift="super" font-size="4.95">-</tspan><tspan fill="#333" stroke="#333">-Imi</tspan></text>
<line x1="430.2" y1="599.9" x2="430.2" y2="603.1" stroke="#000" stroke-width="1.1"/>
<text transform="translate(436.9,610.7) rotate(-43)" font-size="8.25" text-anchor="end" stroke-width="0.25"><tspan fill="#38cc44" stroke="#38cc44">50%</tspan><tspan fill="#38cc44" stroke="#38cc44" font-style="italic">tpc2</tspan><tspan fill="#38cc44" stroke="#38cc44" baseline-shift="super" font-size="4.95">-</tspan><tspan fill="#38cc44" stroke="#38cc44">-Imi</tspan><tspan fill="#333" stroke="#333">_50%AX2-NaCl</tspan></text>
<line x1="451.9" y1="599.9" x2="451.9" y2="603.1" stroke="#000" stroke-width="1.1"/>
<text transform="translate(458.6,610.7) rotate(-43)" font-size="8.25" text-anchor="end" stroke-width="0.25"><tspan fill="#38cc44" stroke="#38cc44">90%AX2-NaCl</tspan><tspan fill="#333" stroke="#333">_10%</tspan><tspan fill="#333" stroke="#333" font-style="italic">tpc2</tspan><tspan fill="#333" stroke="#333" baseline-shift="super" font-size="4.95">-</tspan><tspan fill="#333" stroke="#333">-Imi</tspan></text>
<line x1="473.4" y1="599.9" x2="473.4" y2="603.1" stroke="#000" stroke-width="1.1"/>
<text transform="translate(480.1,610.7) rotate(-43)" font-size="8.25" text-anchor="end" stroke-width="0.25"><tspan fill="#38cc44" stroke="#38cc44">90%</tspan><tspan fill="#38cc44" stroke="#38cc44" font-style="italic">tpc2</tspan><tspan fill="#38cc44" stroke="#38cc44" baseline-shift="super" font-size="4.95">-</tspan><tspan fill="#38cc44" stroke="#38cc44">-Imi</tspan><tspan fill="#333" stroke="#333">_10%AX2-NaCl</tspan></text>
<text transform="translate(328.9,549.45) rotate(-90)" font-size="8.41" font-weight="bold" text-anchor="middle" fill="#222">Green fluorescent spores (%)</text>
<rect x="500" y="502.95" width="11" height="5.5" fill="#000"/>
<text x="517.2" y="508.69" font-size="8.3" stroke-width="0.25"><tspan fill="#38cc44" stroke="#38cc44">10%</tspan><tspan fill="#222" stroke="#222">+90%</tspan></text>
<rect x="500" y="515.25" width="11" height="5.5" fill="#808080"/>
<text x="517.2" y="520.99" font-size="8.3" stroke-width="0.25"><tspan fill="#38cc44" stroke="#38cc44">50%</tspan><tspan fill="#222" stroke="#222">+50%</tspan></text>
<rect x="500" y="527.55" width="11" height="5.5" fill="#d2d2d2"/>
<text x="517.2" y="533.29" font-size="8.3" stroke-width="0.25"><tspan fill="#38cc44" stroke="#38cc44">90%</tspan><tspan fill="#222" stroke="#222">+10%</tspan></text>
</svg>
</body>
</html>
